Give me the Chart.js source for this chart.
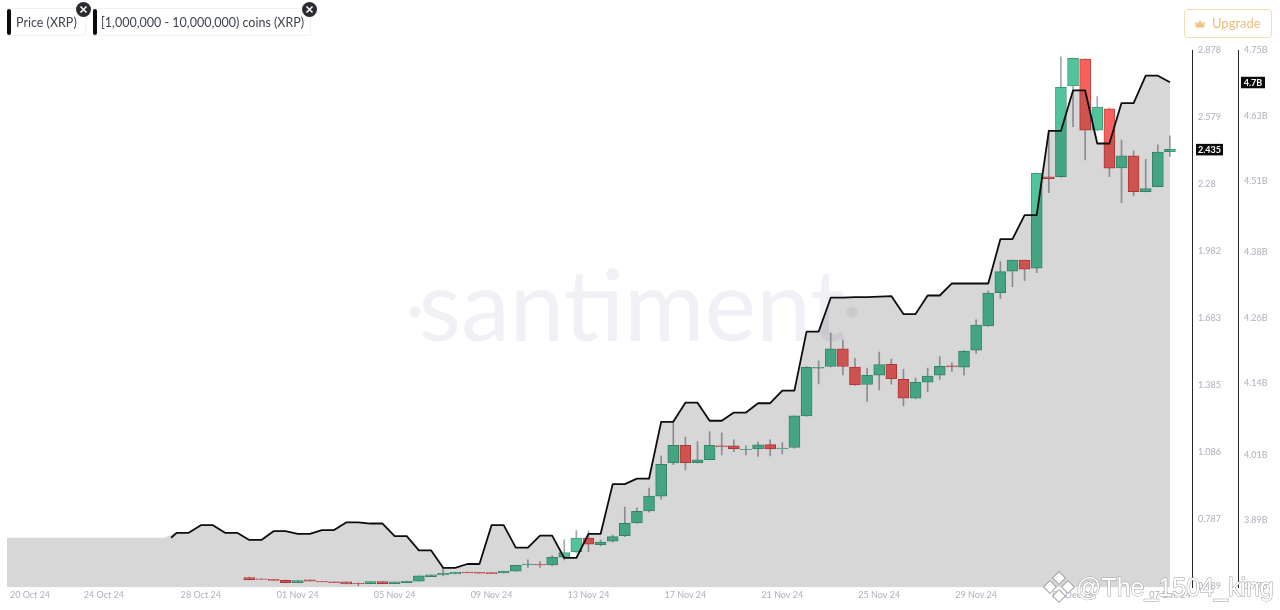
<!DOCTYPE html>
<html>
<head>
<meta charset="utf-8">
<script src="https://cdn.jsdelivr.net/npm/chart.js@4"></script>
<style>
html,body{margin:0;padding:0;background:#fff;width:1280px;height:610px;overflow:hidden;font-family:Lato,sans-serif}
#c{position:absolute;left:0;top:0}
.chip{position:absolute;top:8px;height:28px;border:1px solid #f1f1f3;border-left:none;box-sizing:border-box;border-radius:0 3px 3px 0;font-size:12.5px;line-height:28px;color:#3f4450;white-space:nowrap}
.chip i{position:absolute;left:0;top:0;bottom:0;width:3.5px;background:#0b0b0f;border-radius:2px}
.x{position:absolute;top:2px;width:15px;height:15px;border-radius:50%;background:#2a2b33}
.x svg{display:block}
#up{position:absolute;left:1184px;top:9px;width:88px;height:29px;box-sizing:border-box;border:1px solid #f3dcb2;border-radius:4px;color:#edbd78;font-size:13px;line-height:27px;padding-left:27px}
#up svg{position:absolute;left:9px;top:9px}
</style>
</head>
<body>
<canvas id="c" width="1280" height="610"></canvas>
<div class="chip" style="left:7px;width:79px;padding-left:9px"><i></i>Price (XRP)</div>
<div class="chip" style="left:93px;width:218px;padding-left:8px"><i></i>[1,000,000 - 10,000,000) coins (XRP)</div>
<div class="x" style="left:76px"><svg width="15" height="15"><path d="M4.5 4.5L10.5 10.5M10.5 4.5L4.5 10.5" stroke="#fff" stroke-width="1.6"/></svg></div>
<div class="x" style="left:302px"><svg width="15" height="15"><path d="M4.5 4.5L10.5 10.5M10.5 4.5L4.5 10.5" stroke="#fff" stroke-width="1.6"/></svg></div>
<div id="up"><svg width="12" height="10"><path d="M1 2.5L3.7 4.7 6 1 8.3 4.7 11 2.5 10 8.5H2Z" fill="#efc384"/></svg>Upgrade</div>
<script>
const dateTicks = ['20 Oct 24','24 Oct 24','28 Oct 24','01 Nov 24','05 Nov 24','09 Nov 24','13 Nov 24','17 Nov 24','21 Nov 24','25 Nov 24','29 Nov 24','03 Dec 24','07 Dec 24'];
const priceTicks = [0.489,0.787,1.086,1.385,1.683,1.982,2.28,2.579,2.878];
const priceTickLabels = ['0.489','0.787','1.086','1.385','1.683','1.982','2.28','2.579','2.878'];
const holderTicks = [3.77,3.89,4.01,4.14,4.26,4.38,4.51,4.63,4.75];
const holderTickLabels = ['3.77B','3.89B','4.01B','4.14B','4.26B','4.38B','4.51B','4.63B','4.75B'];
// half-day samples, index 0 = 20 Oct 24, index 96 = 07 Dec 24
const holders = [3.858,3.858,3.858,3.858,3.858,3.858,3.858,3.858,3.858,3.858,3.858,3.858,3.858,3.858,
 3.867,3.867,3.881,3.881,3.867,3.867,3.854,3.854,3.870,3.870,3.865,3.865,3.872,3.872,3.886,3.886,
 3.884,3.884,3.861,3.861,3.835,3.835,3.803,3.803,3.810,3.810,3.881,3.881,3.840,3.840,3.862,3.862,
 3.821,3.821,3.865,3.865,3.956,3.956,3.966,3.966,4.070,4.070,4.105,4.105,4.072,4.072,4.087,4.087,
 4.104,4.104,4.127,4.127,4.235,4.235,4.297,4.297,4.298,4.298,4.299,4.300,4.267,4.267,4.301,4.301,
 4.323,4.323,4.323,4.323,4.404,4.404,4.448,4.448,4.602,4.602,4.676,4.676,4.579,4.579,4.653,4.653,
 4.703,4.703,4.691];
const holderLineStart = 13.55;
const candleStart = 20;
const opens = [.526,.521,.518,.514,.504,.516,.509,.507,.507,.501,.499,.508,.499,.504,.510,.530,.538,.542,.551,.550,.548,.547,.555,.583,.585,.583,.617,.642,.702,.673,.688,.713,.770,.823,.889,1.037,1.116,1.039,1.052,1.113,1.113,1.096,1.100,1.119,1.101,1.106,1.247,1.460,1.467,1.546,1.465,1.387,1.428,1.477,1.410,1.326,1.397,1.429,1.470,1.464,1.540,1.648,1.796,1.892,1.941,1.905,2.313,2.313,2.718,2.838,2.521,2.616,2.352,2.406,2.247,2.269,2.425];
const closes = [.517,.518,.514,.504,.513,.510,.507,.504,.498,.499,.508,.499,.507,.511,.534,.539,.545,.550,.547,.546,.544,.555,.581,.586,.583,.617,.638,.702,.675,.685,.709,.768,.822,.889,1.031,1.116,1.039,1.051,1.116,1.110,1.101,1.098,1.118,1.100,1.103,1.247,1.464,1.463,1.546,1.467,1.385,1.428,1.476,1.413,1.326,1.397,1.424,1.468,1.465,1.536,1.652,1.794,1.890,1.941,1.901,2.328,2.304,2.712,2.841,2.521,2.623,2.351,2.406,2.247,2.260,2.423,2.435];
const highs = [.528,.521,.518,.516,.513,.516,.509,.507,.507,.503,.508,.508,.507,.511,.534,.539,.572,.550,.551,.550,.548,.555,.581,.605,.597,.624,.694,.736,.734,.694,.716,.840,.837,.925,1.069,1.221,1.152,1.132,1.177,1.172,1.140,1.113,1.130,1.140,1.128,1.247,1.467,1.492,1.616,1.586,1.504,1.460,1.531,1.500,1.455,1.415,1.460,1.511,1.484,1.538,1.675,1.805,1.935,1.942,1.942,2.329,2.521,2.848,2.842,2.840,2.670,2.619,2.477,2.428,2.391,2.455,2.495];
const lows = [.516,.517,.514,.502,.504,.510,.507,.504,.498,.490,.499,.499,.499,.504,.510,.530,.534,.542,.547,.546,.544,.547,.555,.572,.571,.578,.605,.636,.642,.667,.684,.709,.768,.818,.876,1.030,1.006,1.037,1.051,1.073,1.088,1.073,1.066,1.069,1.078,1.103,1.245,1.390,1.465,1.430,1.383,1.311,1.363,1.388,1.291,1.323,1.355,1.410,1.444,1.429,1.526,1.646,1.771,1.823,1.850,1.885,2.242,2.310,2.536,2.388,2.519,2.313,2.198,2.227,2.245,2.268,2.402];

const candleX = opens.map((_, i) => candleStart + i);
const isUp = opens.map((o, i) => closes[i] >= o);
const holderPoints = holders.map((v, i) => ({x: i, y: v}));
const holderLinePoints = [{x: holderLineStart, y: holders[13]}].concat(holderPoints.slice(14));
const FONT = 'Lato, sans-serif';

const overlay = {
  id: 'overlay',
  beforeDatasetsDraw(chart) {
    const c = chart.ctx;
    c.save();
    c.fillStyle = '#f0f1f6';
    c.font = '400 98px ' + FONT;
    c.textBaseline = 'alphabetic';
    c.textAlign = 'center';
    c.fillText('santiment', 632, 341);
    [[415, 312], [852, 312]].forEach(([x, y]) => {
      c.beginPath();
      c.arc(x, y, 5.5, 0, Math.PI * 2);
      c.fill();
    });
    c.restore();
  },
  afterDraw(chart) {
    const c = chart.ctx, xs = chart.scales.x, ys = chart.scales.y, yh = chart.scales.y1;
    c.save();
    // date labels along the bottom
    c.font = '9px ' + FONT;
    c.fillStyle = '#adafbc';
    c.textAlign = 'center';
    c.textBaseline = 'middle';
    dateTicks.forEach((t, i) => {
      const px = xs.getPixelForValue(i * 8);
      c.fillText(t, Math.min(Math.max(px, 30), 1183), 595.5);
    });
    // last-value badges
    const badge = (txt, x, w, y) => {
      c.fillStyle = '#0a0a0a';
      c.fillRect(x, y - 5.5, w, 11.5);
      c.fillStyle = '#fff';
      c.font = 'bold 9px ' + FONT;
      c.textAlign = 'center';
      c.fillText(txt, x + w / 2, y + 0.5);
    };
    badge(closes[closes.length - 1].toFixed(3), 1196, 27, ys.getPixelForValue(closes[closes.length - 1]));
    badge('4.7B', 1241, 24, yh.getPixelForValue(holders[holders.length - 1]));
    // repost watermark
    const wx = 1059, wy = 587;
    c.strokeStyle = '#a0a0a0';
    c.fillStyle = '#fff';
    c.lineWidth = 1;
    [[0,-9],[-9,0],[9,0],[0,9]].forEach(([dx, dy]) => {
      c.save();
      c.translate(wx + dx, wy + dy);
      c.rotate(Math.PI / 4);
      c.fillRect(-4.5, -4.5, 9, 9);
      c.strokeRect(-4.5, -4.5, 9, 9);
      c.restore();
    });
    c.font = '25px "Liberation Sans", sans-serif';
    c.textAlign = 'left';
    c.textBaseline = 'alphabetic';
    c.lineWidth = 1;
    c.strokeText('@The_1504_king', 1076, 596);
    c.fillText('@The_1504_king', 1076, 596);
    c.restore();
  }
};

const fixedWidth = w => s => { s.width = w; };

new Chart(document.getElementById('c'), {
  data: {
    datasets: [
      {
        type: 'line', label: '[1,000,000 - 10,000,000) coins (XRP)', yAxisID: 'y1', order: 0,
        data: holderLinePoints, parsing: false,
        borderColor: '#0d0d0d', borderWidth: 1.8, pointRadius: 0, tension: 0,
        borderJoinStyle: 'round', fill: false
      },
      {
        type: 'line', label: 'coins area', yAxisID: 'y1', order: 1,
        data: holderPoints, parsing: false,
        borderWidth: 0, borderColor: 'rgba(0,0,0,0)', pointRadius: 0, tension: 0,
        fill: 'start', backgroundColor: 'rgba(0,0,0,0.155)'
      },
      {
        type: 'bar', label: 'Price (XRP)', yAxisID: 'y', order: 2, grouped: false,
        data: candleX.map((x, i) => ({x, y: [opens[i], closes[i]]})),
        barThickness: 11,
        backgroundColor: isUp.map(u => u ? '#52c49c' : '#f5625e'),
        borderColor: isUp.map(u => u ? '#3f9c7b' : '#c9423f'),
        borderWidth: 1, borderSkipped: false
      },
      {
        type: 'bar', label: 'Price range', yAxisID: 'y', order: 3, grouped: false,
        data: candleX.map((x, i) => ({x, y: [lows[i], highs[i]]})),
        barThickness: 1,
        backgroundColor: '#a5a5b2', borderWidth: 0
      }
    ]
  },
  options: {
    responsive: false, animation: false, devicePixelRatio: 1,
    layout: { padding: { left: 7, top: 50, right: 0, bottom: 0 } },
    plugins: { legend: { display: false }, tooltip: { enabled: false } },
    scales: {
      x: {
        type: 'linear', min: 0, max: 97.82, offset: false,
        grid: { display: false }, border: { display: false },
        ticks: { display: false },
        afterFit: s => { s.height = 22.5; }
      },
      y: {
        position: 'right', min: 0.482, max: 2.878,
        grid: { display: false, drawTicks: false },
        border: { display: true, color: '#22252b', width: 1 },
        afterBuildTicks: s => { s.ticks = priceTicks.map(v => ({value: v})); },
        afterFit: fixedWidth(46),
        ticks: { padding: 6, color: '#adafbc', font: { size: 9, family: FONT },
                 callback: (v) => priceTickLabels[priceTicks.indexOf(v)] }
      },
      y1: {
        position: 'right', min: 3.767, max: 4.75,
        grid: { display: false, drawTicks: false },
        border: { display: true, color: '#22252b', width: 1 },
        afterBuildTicks: s => { s.ticks = holderTicks.map(v => ({value: v})); },
        afterFit: fixedWidth(42),
        ticks: { padding: 6, color: '#adafbc', font: { size: 9, family: FONT },
                 callback: (v) => holderTickLabels[holderTicks.indexOf(v)] }
      }
    }
  },
  plugins: [overlay]
});
</script>
</body>
</html>
